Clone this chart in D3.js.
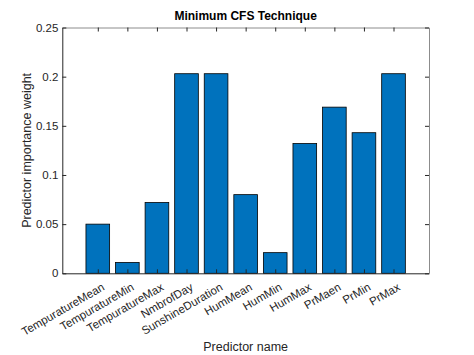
<!DOCTYPE html>
<html>
<head>
<meta charset="utf-8">
<script src="https://cdn.jsdelivr.net/npm/d3@7/dist/d3.min.js"></script>
<style>
  html, body { margin: 0; padding: 0; background: #fff; }
  text { font-family: "Liberation Sans", Arial, Helvetica, sans-serif; }
</style>
</head>
<body>
<svg id="chart" width="474" height="355"></svg>
<script>
const categories = ["TempuratureMean", "TempuratureMin", "TempuratureMax", "NmbrofDay",
  "SunshineDuration", "HumMean", "HumMin", "HumMax", "PrMaen", "PrMin", "PrMax"];
const values = [0.050, 0.011, 0.072, 0.203, 0.203, 0.080, 0.021, 0.132, 0.169, 0.143, 0.203];
const yTicks = [0, 0.05, 0.1, 0.15, 0.2, 0.25];
const yTickLabels = ["0", "0.05", "0.1", "0.15", "0.2", "0.25"];
const titleText = "Minimum CFS Technique";
const xLabelText = "Predictor name";
const yLabelText = "Predictor importance weight";

const svg = d3.select("#chart");
const L = 62.3, R = 429, T = 27.5, B = 273.3;
const idx = categories.map((c, i) => i + 1);

const x = d3.scaleLinear().domain([-0.2, 12.2]).range([L, R]);
const y = d3.scaleLinear().domain([0, 0.25]).range([B, T]);
const bw = x(0.8) - x(0);

const axisDark = "#262626";
const axisLight = "#8c8c8c";
const textCol = "#262626";

// bars
svg.append("g").selectAll("rect").data(values).join("rect")
  .attr("x", (d, i) => x(idx[i]) - bw / 2)
  .attr("width", bw)
  .attr("y", d => y(d))
  .attr("height", d => B - y(d))
  .attr("fill", "#0072BD")
  .attr("stroke", "#000")
  .attr("stroke-width", 0.8);

// bottom axis
const gx = svg.append("g").attr("transform", `translate(0,${B})`)
  .call(d3.axisBottom(x).tickValues(idx).tickSizeInner(-4).tickSizeOuter(0).tickFormat(""));
gx.select(".domain").attr("stroke", axisDark);
gx.selectAll(".tick line").attr("stroke", axisDark);

// x tick labels rotated
gx.selectAll(".tick").append("text")
  .attr("transform", "translate(7,16) rotate(-30)")
  .attr("text-anchor", "end")
  .attr("fill", textCol)
  .attr("font-size", "11.5px")
  .text((d, i) => categories[i]);

// top axis
const gt = svg.append("g").attr("transform", `translate(0,${T})`)
  .call(d3.axisTop(x).tickValues(idx).tickSizeInner(-4).tickSizeOuter(0).tickFormat(""));
gt.select(".domain").attr("stroke", axisLight);
gt.selectAll(".tick line").attr("stroke", axisDark);

// left axis
const gy = svg.append("g").attr("transform", `translate(${L},0)`)
  .call(d3.axisLeft(y).tickValues(yTicks).tickSizeInner(-4).tickSizeOuter(0)
    .tickFormat((d, i) => yTickLabels[i]));
gy.select(".domain").attr("stroke", axisDark);
gy.selectAll(".tick line").attr("stroke", axisDark);
gy.selectAll(".tick text").attr("x", -4).attr("fill", textCol)
  .attr("font-size", "11.5px").attr("font-family", "Liberation Sans, Arial, sans-serif");

// right axis
const gr = svg.append("g").attr("transform", `translate(${R},0)`)
  .call(d3.axisRight(y).tickValues(yTicks).tickSizeInner(-4).tickSizeOuter(0).tickFormat(""));
gr.select(".domain").attr("stroke", axisLight);
gr.selectAll(".tick line").attr("stroke", axisDark);

// title
svg.append("text")
  .attr("x", (L + R) / 2).attr("y", 20)
  .attr("text-anchor", "middle")
  .attr("font-weight", "bold")
  .attr("font-size", "12px")
  .attr("fill", "#000")
  .text(titleText);

// x label
svg.append("text")
  .attr("x", (L + R) / 2).attr("y", 351)
  .attr("text-anchor", "middle")
  .attr("font-size", "12.5px")
  .attr("fill", textCol)
  .text(xLabelText);

// y label
svg.append("text")
  .attr("transform", `translate(31,${(T + B) / 2}) rotate(-90)`)
  .attr("text-anchor", "middle")
  .attr("font-size", "12.5px")
  .attr("fill", textCol)
  .text(yLabelText);
</script>
</body>
</html>
